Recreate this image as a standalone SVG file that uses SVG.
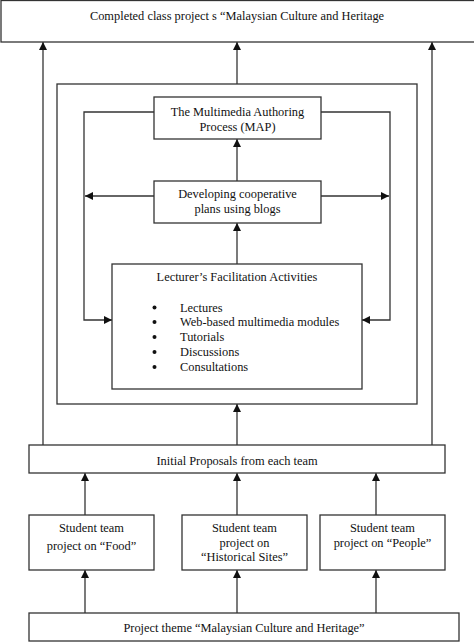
<svg xmlns="http://www.w3.org/2000/svg" width="474" height="642" viewBox="0 0 474 642">
<defs>
<marker id="ah" viewBox="0 0 10 10" refX="10" refY="5" markerWidth="8" markerHeight="8" markerUnits="userSpaceOnUse" orient="auto">
<path d="M0,0 L10,5 L0,10 Z" fill="#111"/>
</marker>
<style>
.box{fill:#fff;stroke:#333;stroke-width:1.3}
.frame{fill:none;stroke:#333;stroke-width:1.3}
.t{font-family:"Liberation Serif","Times New Roman",serif;font-size:12.4px;fill:#111;text-anchor:middle}
.l{font-family:"Liberation Serif","Times New Roman",serif;font-size:12.4px;fill:#111}
.c{fill:none;stroke:#333;stroke-width:1.3}
.a{fill:none;stroke:#333;stroke-width:1.3;marker-end:url(#ah)}
</style>
</defs>
<rect width="474" height="642" fill="#fff"/>
<g id="frame"><rect class="frame" x="57" y="84" width="360" height="320"/></g>
<g id="connectors">
<line class="a" x1="43" y1="445" x2="43" y2="42"/>
<line class="a" x1="432" y1="445" x2="432" y2="42"/>
<line class="a" x1="237" y1="84" x2="237" y2="42"/>
<line class="a" x1="237" y1="181" x2="237" y2="139"/>
<line class="a" x1="237" y1="264" x2="237" y2="223"/>
<line class="a" x1="154" y1="196" x2="85" y2="196"/>
<line class="a" x1="321" y1="196" x2="389" y2="196"/>
<polyline class="a" points="154,112 84,112 84,320 112,320"/>
<polyline class="a" points="321,112 390,112 390,320 362,320"/>
<line class="a" x1="237" y1="445" x2="237" y2="404"/>
<line class="a" x1="85" y1="515" x2="85" y2="473"/>
<line class="a" x1="237" y1="515" x2="237" y2="473"/>
<line class="a" x1="376" y1="515" x2="376" y2="473"/>
<line class="a" x1="85" y1="613" x2="85" y2="570"/>
<line class="a" x1="237" y1="613" x2="237" y2="570"/>
<line class="a" x1="376" y1="613" x2="376" y2="570"/>
</g>
<g id="completed">
<rect class="box" x="1" y="0.5" width="475" height="41.5" stroke-width="2"/>
<text class="t" x="237" y="20">Completed class project s “Malaysian Culture and Heritage</text>
</g>
<g id="map">
<rect class="box" x="154" y="97" width="167" height="42"/>
<text class="t" x="237.5" y="116">The Multimedia Authoring</text>
<text class="t" x="237.5" y="131">Process (MAP)</text>
</g>
<g id="developing">
<rect class="box" x="154" y="181" width="167" height="42"/>
<text class="t" x="237.5" y="198">Developing cooperative</text>
<text class="t" x="237.5" y="213">plans using blogs</text>
</g>
<g id="lecturer">
<rect class="box" x="112" y="264" width="250" height="125"/>
<text class="t" x="237" y="281">Lecturer’s Facilitation Activities</text>
<g fill="#111">
<circle cx="154.5" cy="307.5" r="2"/>
<circle cx="154.5" cy="322" r="2"/>
<circle cx="154.5" cy="337" r="2"/>
<circle cx="154.5" cy="352" r="2"/>
<circle cx="154.5" cy="367" r="2"/>
</g>
<text class="l" x="180" y="312">Lectures</text>
<text class="l" x="180" y="326">Web-based multimedia modules</text>
<text class="l" x="180" y="341">Tutorials</text>
<text class="l" x="180" y="356">Discussions</text>
<text class="l" x="180" y="371">Consultations</text>
</g>
<g id="initial">
<rect class="box" x="29" y="445" width="416" height="28"/>
<text class="t" x="237" y="465">Initial Proposals from each team</text>
</g>
<g id="food">
<rect class="box" x="29" y="515" width="125" height="55"/>
<text class="t" x="91.5" y="532">Student team</text>
<text class="t" x="91.5" y="550">project on “Food”</text>
</g>
<g id="historical">
<rect class="box" x="182" y="515" width="125" height="55"/>
<text class="t" x="244.5" y="532">Student team</text>
<text class="t" x="244.5" y="547">project on</text>
<text class="t" x="244.5" y="561">“Historical Sites”</text>
</g>
<g id="people">
<rect class="box" x="320" y="515" width="125" height="55"/>
<text class="t" x="382.5" y="532">Student team</text>
<text class="t" x="382.5" y="547">project on “People”</text>
</g>
<g id="theme">
<rect class="box" x="29" y="613" width="430" height="28" stroke-width="1.6"/>
<text class="t" x="244" y="632">Project theme “Malaysian Culture and Heritage”</text>
</g>
</svg>
